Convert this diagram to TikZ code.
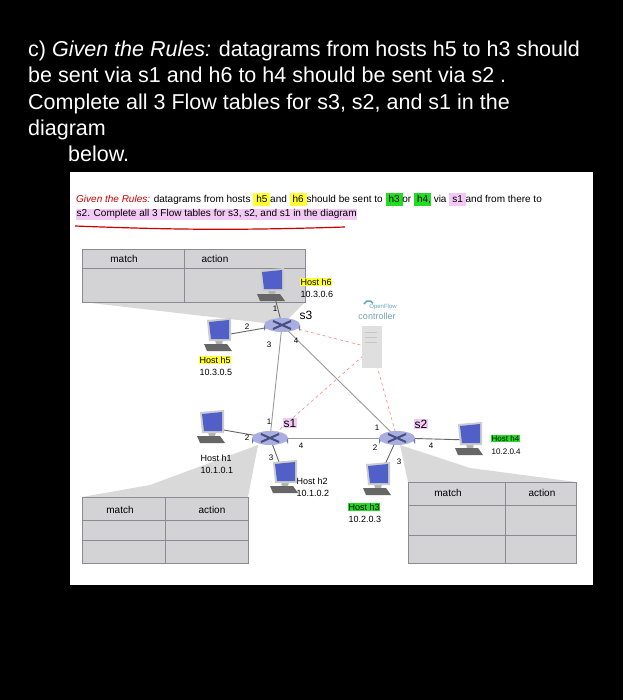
\documentclass[tikz,border=0pt]{standalone}
\usepackage{fontspec}
\setmainfont{Liberation Sans}
\usetikzlibrary{arrows.meta}
\definecolor{tgray}{HTML}{D3D3D6}
\definecolor{tline}{HTML}{8A8A95}
\definecolor{hyel}{HTML}{FFFF33}
\definecolor{hgrn}{HTML}{22DD22}
\definecolor{hpink}{HTML}{F4C8F4}
\definecolor{rtop}{HTML}{A8AEE0}
\definecolor{rside}{HTML}{6670B8}
\definecolor{scr}{HTML}{5060C8}
\tikzset{
  x=1pt,y=-1pt,
  wtxt/.style={text=white,font=\fontsize{21.5}{24}\selectfont,anchor=base west,inner sep=0},
  ptxt/.style={font=\fontsize{10}{11}\selectfont,anchor=base west,inner sep=0},
  lbl/.style={font=\fontsize{9}{10}\selectfont,inner sep=0.5pt,anchor=base west},
  port/.style={font=\fontsize{8}{9}\selectfont,inner sep=0},
  link/.style={draw=gray!80,line width=0.9pt},
  ctl/.style={draw=red!50,dashed,line width=0.6pt},
  wedge/.style={fill=gray!30,draw=none},
  tbl/.style={fill=tgray,draw=tline,line width=0.8pt},
  pics/router/.style={code={
    \fill[rside] (-18,0) -- (-18,6) arc[start angle=180,end angle=360,x radius=18,y radius=7] -- (18,0) -- cycle;
    \fill[rtop] (0,0) ellipse[x radius=18,y radius=7];
    \draw[rside!70!black,line width=2pt] (-9,-4) -- (9,4) (-9,4) -- (9,-4);
  }},
  pics/computer/.style={code={
    \fill[gray!60] (-4,4) -- (4,4) -- (3,8) -- (-3,8) -- cycle;
    \fill[gray!80!black] (-15,8) -- (8,8) -- (13,15) -- (-12,15) -- cycle;
    \fill[gray!40] (-12,-16) -- (12,-18) -- (12,5) -- (-10,5) -- cycle;
    \fill[scr] (-10,-14) -- (10,-16) -- (10,3) -- (-8,3) -- cycle;
  }}
}
\begin{document}
\begin{tikzpicture}
\useasboundingbox (0,0) rectangle (623,700);
\fill[black] (0,0) rectangle (623,700);
% question text
\node[wtxt] (q1) at (28,57) {c) \textit{Given the Rules:} datagrams from hosts h5 to h3 should};
\node[wtxt] (q2) at (28,83) {be sent via s1 and h6 to h4 should be sent via s2 .};
\node[wtxt] (q3) at (28,110) {Complete all 3 Flow tables for s3, s2, and s1 in the};
\node[wtxt] (q4) at (28,136) {diagram};
\node[wtxt] (q5) at (68,162) {below.};
% panel
\fill[white] (70,172) rectangle (593,585);
\node[ptxt] (p1) at (76,203) {\textcolor{red!80!black}{\textit{Given the Rules:}} datagrams from hosts \colorbox{hyel}{\rule{0pt}{7pt}h5}\hspace{-3pt} and \colorbox{hyel}{\rule{0pt}{7pt}h6}\hspace{-3pt} should be sent to \colorbox{hgrn}{\rule{0pt}{7pt}h3}\hspace{-3pt} or \colorbox{hgrn}{\rule{0pt}{7pt}h4}\hspace{-3pt}, via \colorbox{hpink}{\rule{0pt}{7pt}s1}\hspace{-3pt} and from there to};
\node[ptxt,fill=hpink,inner sep=0.5pt] (p2) at (76,217) {s2. Complete all 3 Flow tables for s3, s2, and s1 in the diagram};
\draw[red!80!black,line width=1.2pt] (75,226) to[bend right=2] (345,227);
% wedges
\fill[wedge] (82,302) -- (305,302) -- (282,325) -- cycle;
\fill[wedge] (82,497) -- (150,485) -- (258,445) -- (248,497) -- cycle;
\fill[wedge] (408,482) -- (576,482) -- (470,468) -- (400,445) -- cycle;
% tables
\draw[tbl] (82,249) rectangle (305,302);
\draw[tline,line width=0.8pt] (82,268) -- (305,268) (184,249) -- (184,302);
\node[font=\fontsize{10}{11}\selectfont] (t3m) at (124,259) {match};
\node[font=\fontsize{10}{11}\selectfont] (t3a) at (215,259) {action};
\draw[tbl] (82,497) rectangle (248,563);
\draw[tline,line width=0.8pt] (82,520) -- (248,520) (82,540) -- (248,540) (165,497) -- (165,563);
\node[font=\fontsize{10}{11}\selectfont] (t1m) at (120,510) {match};
\node[font=\fontsize{10}{11}\selectfont] (t1a) at (212,510) {action};
\draw[tbl] (408,482) rectangle (576,563);
\draw[tline,line width=0.8pt] (408,505) -- (576,505) (408,535) -- (576,535) (505,482) -- (505,563);
\node[font=\fontsize{10}{11}\selectfont] (t2m) at (448,493) {match};
\node[font=\fontsize{10}{11}\selectfont] (t2a) at (542,493) {action};
% nodes positions
\coordinate (s3) at (282,325);
\coordinate (s1) at (270,438);
\coordinate (s2) at (397,438);
\coordinate (h6) at (272,286);
\coordinate (h5) at (219,336);
\coordinate (h1) at (212,428);
\coordinate (h2) at (285,478);
\coordinate (h3) at (378,480);
\coordinate (h4) at (470,440);
\coordinate (ctr) at (372,348);
% links
\draw[link] (s3) -- (s1);
\draw[link] (s3) -- (s2);
\draw[link] (s1) -- (s2);
\draw[link,gray!80!black] (h6) -- (s3);
\draw[link,gray!80!black] (h5) -- (s3);
\draw[link,gray!80!black] (h1) -- (s1);
\draw[link,gray!80!black] (h2) -- (s1);
\draw[link,gray!80!black] (h3) -- (s2);
\draw[link,gray!80!black] (h4) -- (s2);
\draw[ctl] (ctr) -- (s3);
\draw[ctl] (ctr) -- (s1);
\draw[ctl] (ctr) -- (s2);
% controller
\fill[gray!25] (ctr) ++(-10,-22) rectangle ++(20,42);
\draw[gray!45] (ctr) ++(-7,-16) -- ++(12,0) ++(-12,5) -- ++(12,0) ++(-12,5) -- ++(12,0);
\node[font=\fontsize{6}{7}\selectfont,text=cyan!50!gray] (ofl) at (383,307) {OpenFlow};
\node[font=\fontsize{9}{9}\selectfont,text=cyan!40!gray] (ctrl) at (377,316) {controller};
\draw[cyan!50!gray,line width=1.5pt] (364,304) arc[start angle=200,end angle=330,radius=5];
% routers
\pic at (s3) {router};
\pic at (s1) {router};
\pic at (s2) {router};
% computers
\pic at (h6) {computer};
\pic at (h5) {computer};
\pic at (h1) {computer};
\pic at (h2) {computer};
\pic at (h3) {computer};
\pic at (h4) {computer};
% labels
\node[font=\fontsize{12}{13}\selectfont] (l3) at (306,315) {s3};
\node[font=\fontsize{12}{13}\selectfont,fill=hpink,inner sep=1pt] (l1) at (290,423) {s1};
\node[font=\fontsize{12}{13}\selectfont,fill=hpink,inner sep=1pt] (l2) at (421,424) {s2};
\node[lbl,fill=hyel] (n6) at (300,285) {Host h6};
\node[lbl] (n6b) at (300,297) {10.3.0.6};
\node[lbl,fill=hyel] (n5) at (199,363) {Host h5};
\node[lbl] (n5b) at (199,375) {10.3.0.5};
\node[lbl] (n1) at (200,461) {Host h1};
\node[lbl] (n1b) at (200,473) {10.1.0.1};
\node[lbl] (n2) at (296,484) {Host h2};
\node[lbl] (n2b) at (296,496) {10.1.0.2};
\node[lbl,fill=hgrn] (n3) at (348,510) {Host h3};
\node[lbl] (n3b) at (348,522) {10.2.0.3};
\node[lbl,fill=hgrn,font=\fontsize{8}{9}\selectfont] (n4) at (491,441) {Host h4};
\node[lbl,font=\fontsize{8}{9}\selectfont] (n4b) at (491,454) {10.2.0.4};
% ports
\node[port] (a1) at (275,309) {1};
\node[port] (a2) at (247,327) {2};
\node[port] (a3) at (269,345) {3};
\node[port] (a4) at (296,341) {4};
\node[port] (b1) at (269,422) {1};
\node[port] (b2) at (247,438) {2};
\node[port] (b3) at (271,458) {3};
\node[port] (b4) at (301,446) {4};
\node[port] (c1) at (377,428) {1};
\node[port] (c2) at (375,448) {2};
\node[port] (c3) at (399,462) {3};
\node[port] (c4) at (431,446) {4};
\end{tikzpicture}
\end{document}
